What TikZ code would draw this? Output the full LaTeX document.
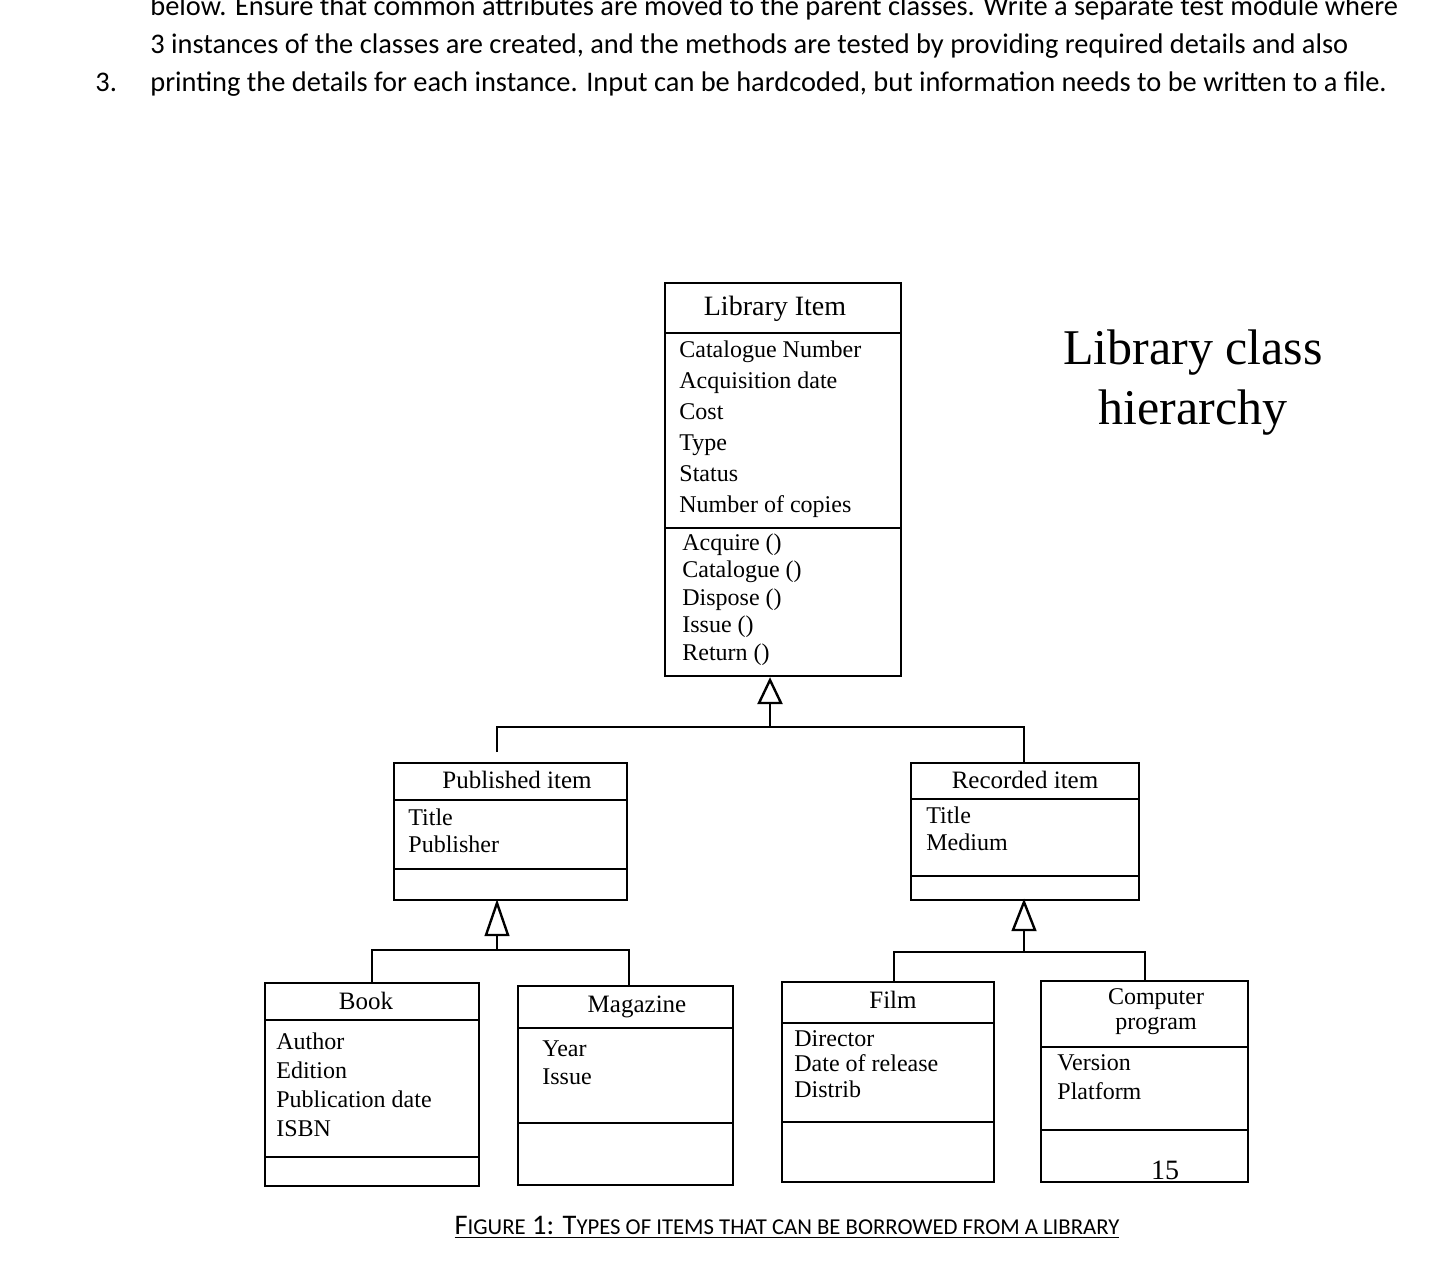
\documentclass[tikz,border=0pt]{standalone}
\usepackage{fontspec}
\setmainfont{Liberation Serif}
\newfontfamily\carlitofont{Carlito}
\begin{document}
\begin{tikzpicture}[x=0.5pt,y=-0.5pt,
  bx/.style={draw,line width=1.2pt},
  ln/.style={line width=1.2pt},
  tri/.style={draw,line width=1.2pt,fill=white},
  t/.style={anchor=west,inner sep=0pt,font=\fontsize{12}{15.5}\selectfont,align=left},
  hd/.style={inner sep=0pt,font=\fontsize{12.5}{14}\selectfont}]
\useasboundingbox (0,0) rectangle (1450,1268);
% paragraph
\node[anchor=base west,inner sep=0pt,font=\carlitofont\fontsize{14.2}{19}\selectfont] (num) at (95,92) {3.};
\node[anchor=base west,inner sep=0pt,align=left,font=\carlitofont\fontsize{14.2}{19.2}\selectfont] (para) at (150,92) {Create in Python the parent class (superclass) and subclasses to represent the problem given in Figure 1\\below. Ensure that common attributes are moved to the parent classes. Write a separate test module where\\3 instances of the classes are created, and the methods are tested by providing required details and also\\printing the details for each instance. Input can be hardcoded, but information needs to be written to a file.};
\node[align=center,inner sep=0pt,font=\fontsize{25}{30}\selectfont] (ttl) at (1193,383) {Library class\\hierarchy};
% Library Item
\draw[bx] (665,283) rectangle (901,676);
\draw[ln] (665,333) -- (901,333); \draw[ln] (665,528) -- (901,528);
\node[hd,font=\fontsize{14}{16}\selectfont] (li) at (775,309) {Library Item};
\node[t,anchor=north west] (lia) at (679,340) {Catalogue Number\\Acquisition date\\Cost\\Type\\Status\\Number of copies};
\node[t,anchor=north west,font=\fontsize{12}{13.8}\selectfont] (lim) at (682,533) {Acquire ()\\Catalogue ()\\Dispose ()\\Issue ()\\Return ()};
% Published
\draw[bx] (394,763) rectangle (627,900);
\draw[ln] (394,800) -- (627,800); \draw[ln] (394,869) -- (627,869);
\node[hd] (pi) at (517,780) {Published item};
\node[t,anchor=north west,font=\fontsize{12}{13.5}\selectfont] (pia) at (408,808) {Title\\Publisher};
% Recorded
\draw[bx] (911,763) rectangle (1139,900);
\draw[ln] (911,799) -- (1139,799); \draw[ln] (911,876) -- (1139,876);
\node[hd] (ri) at (1025,780) {Recorded item};
\node[t,anchor=north west,font=\fontsize{12}{13.5}\selectfont] (ria) at (926,806) {Title\\Medium};
% Book
\draw[bx] (265,983) rectangle (479,1186);
\draw[ln] (265,1020) -- (479,1020); \draw[ln] (265,1157) -- (479,1157);
\node[hd] (bk) at (366,1001) {Book};
\node[t,anchor=north west,font=\fontsize{12}{14.5}\selectfont] (bka) at (276,1032) {Author\\Edition\\Publication date\\ISBN};
% Magazine
\draw[bx] (518,986) rectangle (733,1185);
\draw[ln] (518,1028) -- (733,1028); \draw[ln] (518,1123) -- (733,1123);
\node[hd] (mg) at (637,1007) {Magazine};
\node[t,anchor=north west,font=\fontsize{12}{14}\selectfont] (mga) at (542,1040) {Year\\Issue};
% Film
\draw[bx] (782,982) rectangle (994,1182);
\draw[ln] (782,1023) -- (994,1023); \draw[ln] (782,1122) -- (994,1122);
\node[hd] (fm) at (893,1000) {Film};
\node[t,anchor=north west,font=\fontsize{12}{12.8}\selectfont] (fma) at (794,1030) {Director\\Date of release\\Distrib};
% Computer program
\draw[bx] (1041,981) rectangle (1248,1182);
\draw[ln] (1041,1047) -- (1248,1047); \draw[ln] (1041,1130) -- (1248,1130);
\node[hd,align=center,font=\fontsize{12}{12.5}\selectfont] (cp) at (1156,1012) {Computer\\program};
\node[t,anchor=north west,font=\fontsize{12}{14.5}\selectfont] (cpa) at (1057,1054) {Version\\Platform};
\node[hd,font=\fontsize{14}{16}\selectfont] (pg) at (1165,1170) {15};
% connectors
\draw[ln] (770,703) -- (770,727);
\draw[ln] (497,752) -- (497,727) -- (1024,727) -- (1024,763);
\draw[tri] (770,680) -- (781,703) -- (759,703) -- cycle;
\draw[ln] (497,935) -- (497,950);
\draw[ln] (372,983) -- (372,950) -- (629,950) -- (629,986);
\draw[tri] (497,903) -- (508,935) -- (486,935) -- cycle;
\draw[ln] (1024,930) -- (1024,952);
\draw[ln] (894,982) -- (894,952) -- (1145,952) -- (1145,981);
\draw[tri] (1024,902) -- (1035,930) -- (1013,930) -- cycle;
% caption
\node[inner sep=0pt,font=\carlitofont\fontsize{14.2}{16}\selectfont] (cap) at (787,1227) {\underline{F\scalebox{0.8}{IGURE} 1: T\scalebox{0.8}{YPES OF ITEMS THAT CAN BE BORROWED FROM A LIBRARY}}};
\end{tikzpicture}
\end{document}
